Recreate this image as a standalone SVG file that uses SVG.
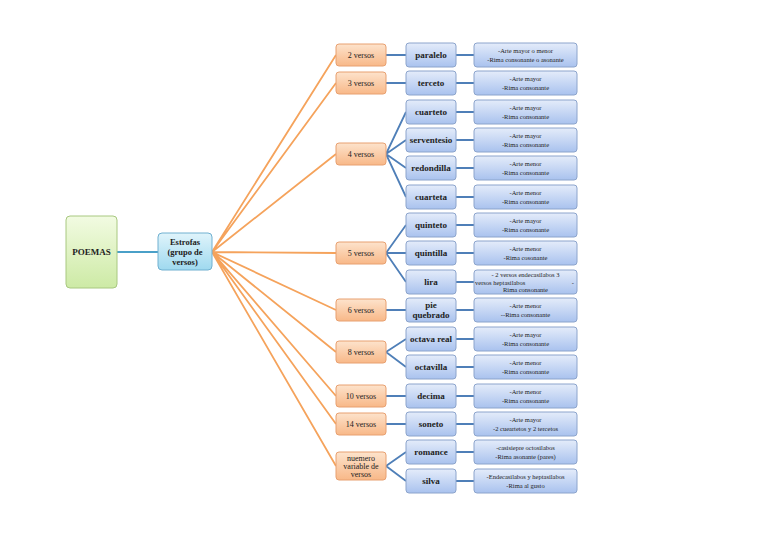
<svg xmlns="http://www.w3.org/2000/svg" width="768" height="543" viewBox="0 0 768 543">
<defs>
<linearGradient id="go" x1="0" y1="0" x2="0" y2="1"><stop offset="0" stop-color="#fde3cc"/><stop offset="1" stop-color="#f8b888"/></linearGradient>
<linearGradient id="gb" x1="0" y1="0" x2="0" y2="1"><stop offset="0" stop-color="#e4ecfa"/><stop offset="1" stop-color="#a9c2ee"/></linearGradient>
<linearGradient id="gg" x1="0" y1="0" x2="0" y2="1"><stop offset="0" stop-color="#f2fbe2"/><stop offset="1" stop-color="#cdeaa5"/></linearGradient>
<linearGradient id="gc" x1="0" y1="0" x2="0" y2="1"><stop offset="0" stop-color="#e0f4fb"/><stop offset="1" stop-color="#9fd9ef"/></linearGradient>
</defs>
<style>
text{font-family:"Liberation Serif",serif;text-anchor:middle;fill:#222}
.o{fill:url(#go);stroke:#e8a070;stroke-width:1}
.b{fill:url(#gb);stroke:#8ca4cc;stroke-width:1}
.t1{font-size:8px}
.t2{font-size:9px;font-weight:bold}
.t3{font-size:6.5px}
.oc{stroke:#f5a35c;stroke-width:1.8;fill:none}
.bc{stroke:#4f7fb8;stroke-width:1.8;fill:none}
</style>
<rect width="768" height="543" fill="#fff"/>
<g id="connectors">
<line x1="117" y1="252" x2="158" y2="252" stroke="#4aa0c8" stroke-width="1.8"/>
<path class="oc" d="M212 252L336 55M212 252L336 83M212 252L336 154M212 252L336 253M212 252L336 310M212 252L336 352M212 252L336 396M212 252L336 424M212 252L336 466"/>
<path class="bc" d="M386 55H406M386 83H406M386 154L406 112M386 154L406 140M386 154L406 168M386 154L406 197M386 253L406 225M386 253H406M386 253L406 282M386 310H406M386 352L406 339M386 352L406 367M386 396H406M386 424H406M386 466L406 452M386 466L406 481"/>
<path class="bc" d="M456 55H474M456 83H474M456 112H474M456 140H474M456 168H474M456 197H474M456 225H474M456 253H474M456 282H474M456 310H474M456 339H474M456 367H474M456 396H474M456 424H474M456 452H474M456 481H474"/>
</g>
<g id="poemas"><rect x="66" y="216" width="51" height="72" rx="4" fill="url(#gg)" stroke="#a8c880"/><text x="91.5" y="255" font-size="9" font-weight="bold">POEMAS</text></g>
<g id="estrofas"><rect x="158" y="233" width="54" height="37" rx="4" fill="url(#gc)" stroke="#70b0d0"/><text x="185" y="245" font-size="8.5" font-weight="bold">Estrofas</text><text x="185" y="255" font-size="8.5" font-weight="bold">(grupo de</text><text x="185" y="265" font-size="8.5" font-weight="bold">versos)</text></g>
<g id="v2"><rect class="o" x="336" y="44" width="50" height="22" rx="3"/><text class="t1" x="361" y="58">2 versos</text></g>
<g id="v3"><rect class="o" x="336" y="72" width="50" height="22" rx="3"/><text class="t1" x="361" y="86">3 versos</text></g>
<g id="v4"><rect class="o" x="336" y="143" width="50" height="22" rx="3"/><text class="t1" x="361" y="157">4 versos</text></g>
<g id="v5"><rect class="o" x="336" y="242" width="50" height="22" rx="3"/><text class="t1" x="361" y="256">5 versos</text></g>
<g id="v6"><rect class="o" x="336" y="299" width="50" height="22" rx="3"/><text class="t1" x="361" y="313">6  versos</text></g>
<g id="v8"><rect class="o" x="336" y="341" width="50" height="22" rx="3"/><text class="t1" x="361" y="355">8 versos</text></g>
<g id="v10"><rect class="o" x="336" y="385" width="50" height="22" rx="3"/><text class="t1" x="361" y="399">10 versos</text></g>
<g id="v14"><rect class="o" x="336" y="413" width="50" height="22" rx="3"/><text class="t1" x="361" y="427">14 versos</text></g>
<g id="vn"><rect class="o" x="336" y="452" width="50" height="28" rx="3"/><text class="t1" x="361" y="461">nuemero</text><text class="t1" x="361" y="469">variable de</text><text class="t1" x="361" y="477">versos</text></g>
<g id="paralelo"><rect class="b" x="406" y="43" width="50" height="24" rx="3"/><text class="t2" x="431" y="58">paralelo</text></g>
<g id="terceto"><rect class="b" x="406" y="71" width="50" height="24" rx="3"/><text class="t2" x="431" y="86">terceto</text></g>
<g id="cuarteto"><rect class="b" x="406" y="100" width="50" height="24" rx="3"/><text class="t2" x="431" y="115">cuarteto</text></g>
<g id="serventesio"><rect class="b" x="406" y="128" width="50" height="24" rx="3"/><text class="t2" x="431" y="143" font-size="8.5">serventesio</text></g>
<g id="redondilla"><rect class="b" x="406" y="156" width="50" height="24" rx="3"/><text class="t2" x="431" y="171">redondilla</text></g>
<g id="cuarteta"><rect class="b" x="406" y="185" width="50" height="24" rx="3"/><text class="t2" x="431" y="200">cuarteta</text></g>
<g id="quinteto"><rect class="b" x="406" y="213" width="50" height="24" rx="3"/><text class="t2" x="431" y="228">quinteto</text></g>
<g id="quintilla"><rect class="b" x="406" y="241" width="50" height="24" rx="3"/><text class="t2" x="431" y="256">quintilla</text></g>
<g id="lira"><rect class="b" x="406" y="270" width="50" height="24" rx="3"/><text class="t2" x="431" y="285">lira</text></g>
<g id="pie"><rect class="b" x="406" y="298" width="50" height="24" rx="3"/><text class="t2" x="431" y="308">pie</text><text class="t2" x="431" y="318">quebrado</text></g>
<g id="octavareal"><rect class="b" x="406" y="327" width="50" height="24" rx="3"/><text class="t2" x="431" y="342">octava real</text></g>
<g id="octavilla"><rect class="b" x="406" y="355" width="50" height="24" rx="3"/><text class="t2" x="431" y="370">octavilla</text></g>
<g id="decima"><rect class="b" x="406" y="384" width="50" height="24" rx="3"/><text class="t2" x="431" y="399">decima</text></g>
<g id="soneto"><rect class="b" x="406" y="412" width="50" height="24" rx="3"/><text class="t2" x="431" y="427">soneto</text></g>
<g id="romance"><rect class="b" x="406" y="440" width="50" height="24" rx="3"/><text class="t2" x="431" y="455">romance</text></g>
<g id="silva"><rect class="b" x="406" y="469" width="50" height="24" rx="3"/><text class="t2" x="431" y="484">silva</text></g>
<g id="d1"><rect class="b" x="474" y="43" width="103" height="24" rx="3"/><text class="t3" x="525.5" y="53">-Arte mayor o menor</text><text class="t3" x="525.5" y="62">-Rima consonante o asonante</text></g>
<g id="d2"><rect class="b" x="474" y="71" width="103" height="24" rx="3"/><text class="t3" x="525.5" y="81">-Arte mayor</text><text class="t3" x="525.5" y="90">-Rima consonante</text></g>
<g id="d3"><rect class="b" x="474" y="100" width="103" height="24" rx="3"/><text class="t3" x="525.5" y="110">-Arte mayor</text><text class="t3" x="525.5" y="119">-Rima consonante</text></g>
<g id="d4"><rect class="b" x="474" y="128" width="103" height="24" rx="3"/><text class="t3" x="525.5" y="138">-Arte mayor</text><text class="t3" x="525.5" y="147">-Rima consonante</text></g>
<g id="d5"><rect class="b" x="474" y="156" width="103" height="24" rx="3"/><text class="t3" x="525.5" y="166">-Arte menor</text><text class="t3" x="525.5" y="175">-Rima consonante</text></g>
<g id="d6"><rect class="b" x="474" y="185" width="103" height="24" rx="3"/><text class="t3" x="525.5" y="195">-Arte menor</text><text class="t3" x="525.5" y="204">-Rima consonante</text></g>
<g id="d7"><rect class="b" x="474" y="213" width="103" height="24" rx="3"/><text class="t3" x="525.5" y="223">-Arte mayor</text><text class="t3" x="525.5" y="232">-Rima consonante</text></g>
<g id="d8"><rect class="b" x="474" y="241" width="103" height="24" rx="3"/><text class="t3" x="525.5" y="251">-Arte menor</text><text class="t3" x="525.5" y="260">-Rima cosonante</text></g>
<g id="d9"><rect class="b" x="474" y="270" width="103" height="24" rx="3"/><text class="t3" x="525.5" y="277">- 2 versos endecasilabos 3</text><text class="t3" x="475" y="285" style="text-anchor:start">versos heptasilabos</text><text class="t3" x="574" y="285" style="text-anchor:end">-</text><text class="t3" x="525.5" y="292">Rima consonante</text></g>
<g id="d10"><rect class="b" x="474" y="298" width="103" height="24" rx="3"/><text class="t3" x="525.5" y="308">-Arte menor</text><text class="t3" x="525.5" y="317">--Rima consonante</text></g>
<g id="d11"><rect class="b" x="474" y="327" width="103" height="24" rx="3"/><text class="t3" x="525.5" y="337">-Arte mayor</text><text class="t3" x="525.5" y="346">-Rima consonante</text></g>
<g id="d12"><rect class="b" x="474" y="355" width="103" height="24" rx="3"/><text class="t3" x="525.5" y="365">-Arte menor</text><text class="t3" x="525.5" y="374">-Rima consonante</text></g>
<g id="d13"><rect class="b" x="474" y="384" width="103" height="24" rx="3"/><text class="t3" x="525.5" y="394">-Arte menor</text><text class="t3" x="525.5" y="403">-Rima consonante</text></g>
<g id="d14"><rect class="b" x="474" y="412" width="103" height="24" rx="3"/><text class="t3" x="525.5" y="422">-Arte mayor</text><text class="t3" x="525.5" y="431">-2 cueartetos y 2 tercetos</text></g>
<g id="d15"><rect class="b" x="474" y="440" width="103" height="24" rx="3"/><text class="t3" x="525.5" y="450">-casisiepre octosilabos</text><text class="t3" x="525.5" y="459">-Rima asonante (pares)</text></g>
<g id="d16"><rect class="b" x="474" y="469" width="103" height="24" rx="3"/><text class="t3" x="525.5" y="479">-Endecasilabos y heptasilabos</text><text class="t3" x="525.5" y="488">-Rima al gusto</text></g>
</svg>
